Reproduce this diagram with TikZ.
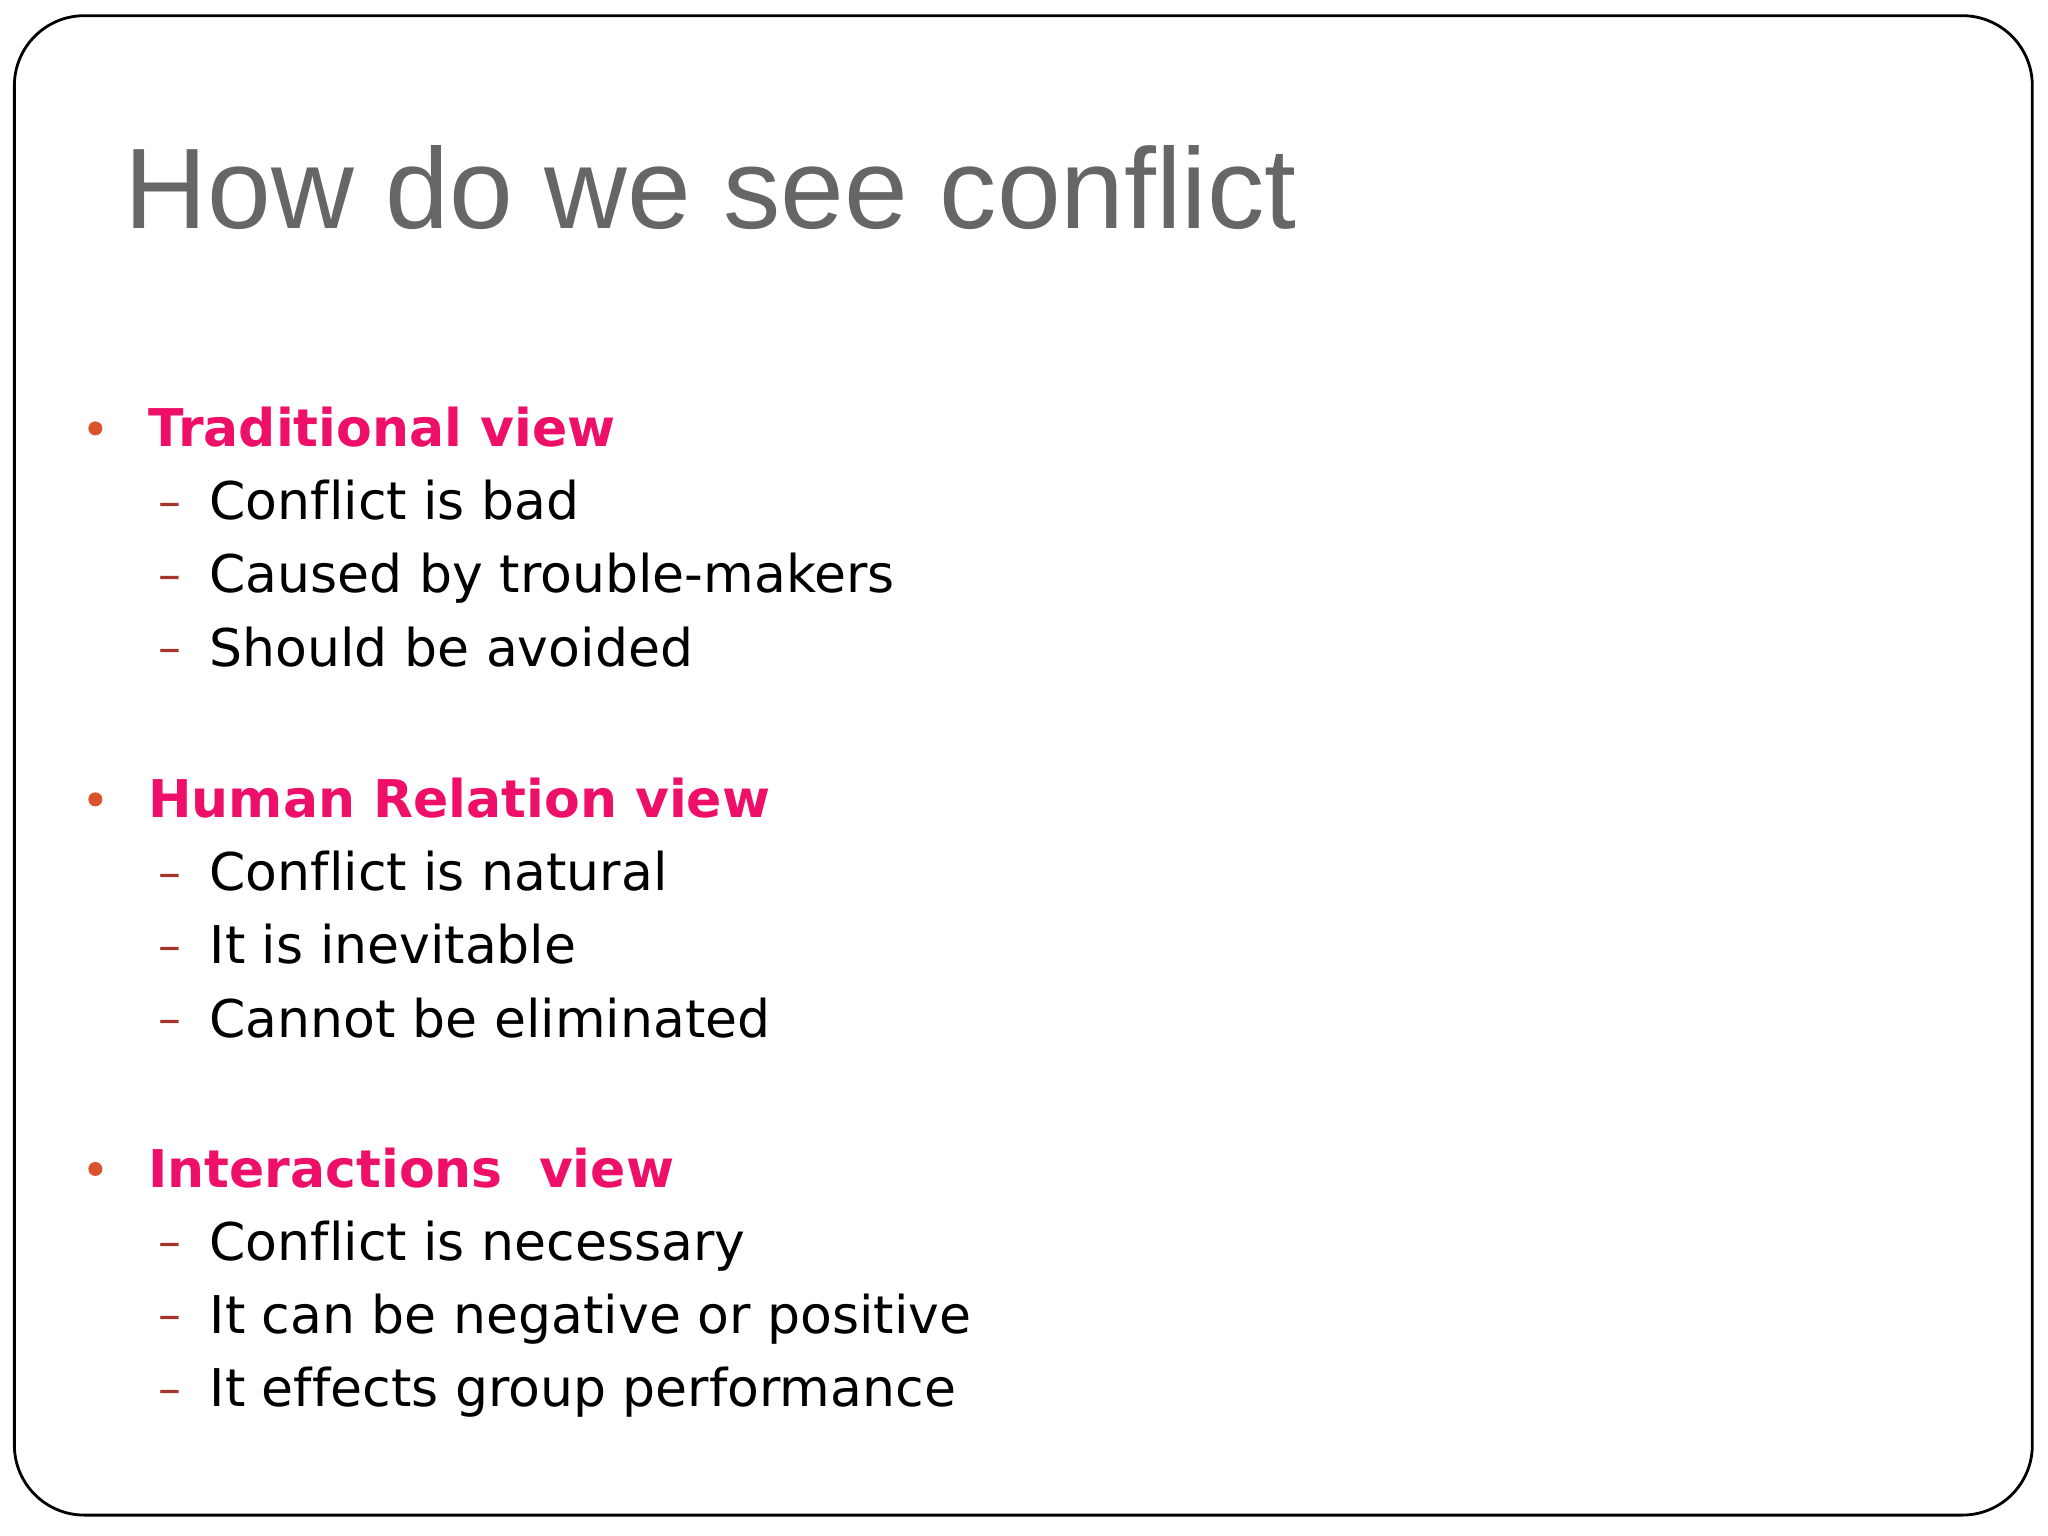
\documentclass[tikz,border=0pt]{standalone}
\usepackage{fontspec}
\setmainfont[Ligatures=NoCommon]{DejaVu Sans}
\newfontfamily\titlefont[Ligatures=NoCommon]{Liberation Sans}
\definecolor{headc}{HTML}{EE0F68}
\definecolor{dotc}{HTML}{D9532B}
\definecolor{dashc}{HTML}{A5352C}
\definecolor{titc}{HTML}{666666}
\begin{document}
\begin{tikzpicture}[x=0.01306cm,y=-0.01306cm,
  head/.style={anchor=base west,inner sep=0,text=headc,font=\fontsize{14.8}{18}\selectfont\bfseries},
  item/.style={anchor=base west,inner sep=0,text=black,font=\fontsize{14.8}{18}\selectfont},
  dot/.style={circle,fill=dotc,inner sep=0,minimum size=0.14cm},
  dsh/.style={anchor=base west,inner sep=0,text=dashc,font=\fontsize{13}{14}\selectfont}]
\useasboundingbox (0,0) rectangle (1568,1176);
\fill[white] (0,0) rectangle (1568,1176);
\draw[line width=0.8pt, rounded corners=0.7cm] (11,12) rectangle (1556,1160);
\node[anchor=base west,inner sep=0,text=titc,font=\titlefont\fontsize{32.6}{38}\selectfont] (title) at (95,175) {How do we see conflict};
\foreach \n/\y/\t in {h1/342/Traditional view, h2/626/Human Relation view, h3/909/{Interactions\ \ view}}{
  \node[dot] (d\n) at (73,{\y-14}) {};
  \node[head] (\n) at (113,\y) {\t};
}
\foreach \n/\y/\t in {a/398/Conflict is bad, b/454/Caused by trouble-makers, c/510/Should be avoided,
  d/682/Conflict is natural, e/738/It is inevitable, f/794/Cannot be eliminated,
  g/965/Conflict is necessary, h/1021/It can be negative or positive, i/1077/It effects group performance}{
  \node[dsh] (m\n) at (121,{\y-2}) {--};
  \node[item] (\n) at (160,\y) {\t};
}
\end{tikzpicture}
\end{document}
